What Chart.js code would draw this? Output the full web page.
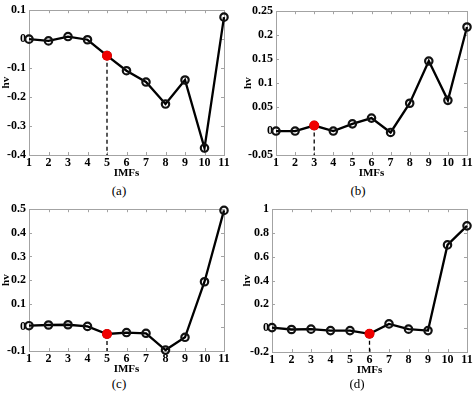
<!DOCTYPE html>
<html>
<head>
<meta charset="utf-8">
<script src="https://cdn.jsdelivr.net/npm/chart.js@4.4.1/dist/chart.umd.min.js"></script>
<style>
  body { margin: 0; background: #fff; }
  #wrap { position: relative; width: 474px; height: 395px; overflow: hidden; }
  .pane { position: absolute; }
  .cap { position: absolute; font: 13px 'Liberation Serif', 'Times New Roman', serif; color: #000;
         transform: translate(-50%, -50%); white-space: nowrap; }
</style>
</head>
<body>
<div id="wrap"></div>
<script>
// values
var imfs = [1, 2, 3, 4, 5, 6, 7, 8, 9, 10, 11]
var hvA = [0, -0.006, 0.009, -0.002, -0.057, -0.109, -0.148, -0.224, -0.141, -0.376, 0.076]
var hvB = [0, 0, 0.0115, 0, 0.015, 0.027, -0.003, 0.058, 0.146, 0.064, 0.217]
var hvC = [0.007, 0.01, 0.011, 0.004, -0.028, -0.022, -0.025, -0.096, -0.042, 0.193, 0.495]
var hvD = [0.005, -0.011, -0.008, -0.02, -0.02, -0.047, 0.036, -0.008, -0.02, 0.70, 0.86]
var chosen = [5, 3, 5, 6]          // IMF marked in red
var yMins = [-0.4, -0.05, -0.1, -0.2]
var yMaxs = [0.1, 0.25, 0.5, 1]
var ySteps = [0.1, 0.05, 0.1, 0.2]
var captions = ['(a)', '(b)', '(c)', '(d)']

// where each axes box sits in the figure
var boxes = [
    { canvasLeft: 0,   axisLeft: 29,  right: 224, top: 7,   bottom: 155, capX: 119, capY: 191 },
    { canvasLeft: 242, axisLeft: 276, right: 467, top: 8,   bottom: 155, capX: 358, capY: 191 },
    { canvasLeft: 0,   axisLeft: 29,  right: 224, top: 206, bottom: 351, capX: 119, capY: 384 },
    { canvasLeft: 241, axisLeft: 272, right: 467, top: 206, bottom: 352, capX: 357, capY: 384 }
]

var serif = "'Liberation Serif', 'Times New Roman', serif"
var axisGray = '#a3a3a3'

// matlab-like box with inward ticks
var boxTicks = {
    id: 'boxTicks',
    beforeDatasetsDraw: function(chart) {
        var ctx = chart.ctx, a = chart.chartArea
        var x = chart.scales.x, y = chart.scales.y
        ctx.save()
        ctx.strokeStyle = axisGray
        ctx.lineWidth = 1
        ctx.strokeRect(Math.round(a.left) + 0.5, Math.round(a.top) + 0.5,
            Math.round(a.right - a.left), Math.round(a.bottom - a.top))
        ctx.beginPath()
        x.ticks.forEach(function(t) {
            var px = Math.round(x.getPixelForValue(t.value)) + 0.5
            ctx.moveTo(px, a.bottom); ctx.lineTo(px, a.bottom - 3)
            ctx.moveTo(px, a.top); ctx.lineTo(px, a.top + 3)
        })
        y.ticks.forEach(function(t) {
            var py = Math.round(y.getPixelForValue(t.value)) + 0.5
            ctx.moveTo(a.left, py); ctx.lineTo(a.left + 3, py)
            ctx.moveTo(a.right, py); ctx.lineTo(a.right - 3, py)
        })
        ctx.stroke()
        ctx.restore()
    }
}

function makePanel(i, values) {
    var b = boxes[i]
    var padTop = 7, padRight = 8, xAxisH = 25
    var cTop = b.top - padTop
    var w = b.right + padRight - b.canvasLeft
    var h = b.bottom - cTop + xAxisH

    var div = document.createElement('div')
    div.className = 'pane'
    div.style.left = b.canvasLeft + 'px'
    div.style.top = cTop + 'px'
    div.style.width = w + 'px'
    div.style.height = h + 'px'
    var cv = document.createElement('canvas')
    cv.width = w
    cv.height = h
    div.appendChild(cv)
    document.getElementById('wrap').appendChild(div)

    var cap = document.createElement('div')
    cap.className = 'cap'
    cap.style.left = b.capX + 'px'
    cap.style.top = b.capY + 'px'
    cap.textContent = captions[i]
    document.getElementById('wrap').appendChild(cap)

    var sel = chosen[i]
    var pts = imfs.map(function(m, k) { return { x: m, y: values[k] } })
    var selPt = { x: sel, y: values[imfs.indexOf(sel)] }

    new Chart(cv, {
        type: 'line',
        data: {
            datasets: [{
                data: [selPt],
                showLine: false,
                pointRadius: 5,
                pointBackgroundColor: '#f00000',
                pointBorderWidth: 0,
                clip: false
            }, {
                data: pts,
                borderColor: '#000',
                borderWidth: 2.3,
                pointRadius: 3.7,
                pointBorderWidth: 2.2,
                pointBorderColor: '#111',
                pointBackgroundColor: 'rgba(0,0,0,0)',
                tension: 0,
                clip: false
            }, {
                data: [selPt, { x: sel, y: yMins[i] }],
                borderColor: '#000',
                borderWidth: 1.3,
                borderDash: [4, 3],
                pointRadius: 0
            }]
        },
        options: {
            responsive: false,
            animation: false,
            devicePixelRatio: 1,
            layout: { padding: { top: padTop, right: padRight, left: 0, bottom: 0 } },
            plugins: { legend: { display: false }, tooltip: { enabled: false } },
            scales: {
                x: {
                    type: 'linear',
                    min: 1, max: 11,
                    grid: { display: false, drawTicks: false },
                    border: { display: false },
                    ticks: { stepSize: 1, padding: 1, color: '#000',
                             font: { family: serif, size: 12, weight: 'bold' } },
                    title: { display: true, text: 'IMFs', color: '#000', padding: 0,
                             font: { family: serif, size: 11, weight: 'bold' } },
                    afterFit: function(s) { s.height = xAxisH }
                },
                y: {
                    min: yMins[i], max: yMaxs[i],
                    grid: { display: false, drawTicks: false },
                    border: { display: false },
                    ticks: {
                        stepSize: ySteps[i], padding: 3, color: '#000',
                        font: { family: serif, size: 12, weight: 'bold' },
                        callback: function(v) { return String(+v.toFixed(3)) }
                    },
                    title: { display: true, text: 'hv', color: '#000', padding: 0,
                             font: { family: serif, size: 11, weight: 'bold' } },
                    afterFit: function(s) { s.width = b.axisLeft - b.canvasLeft }
                }
            }
        },
        plugins: [boxTicks]
    })
}

makePanel(0, hvA)
makePanel(1, hvB)
makePanel(2, hvC)
makePanel(3, hvD)
</script>
</body>
</html>
